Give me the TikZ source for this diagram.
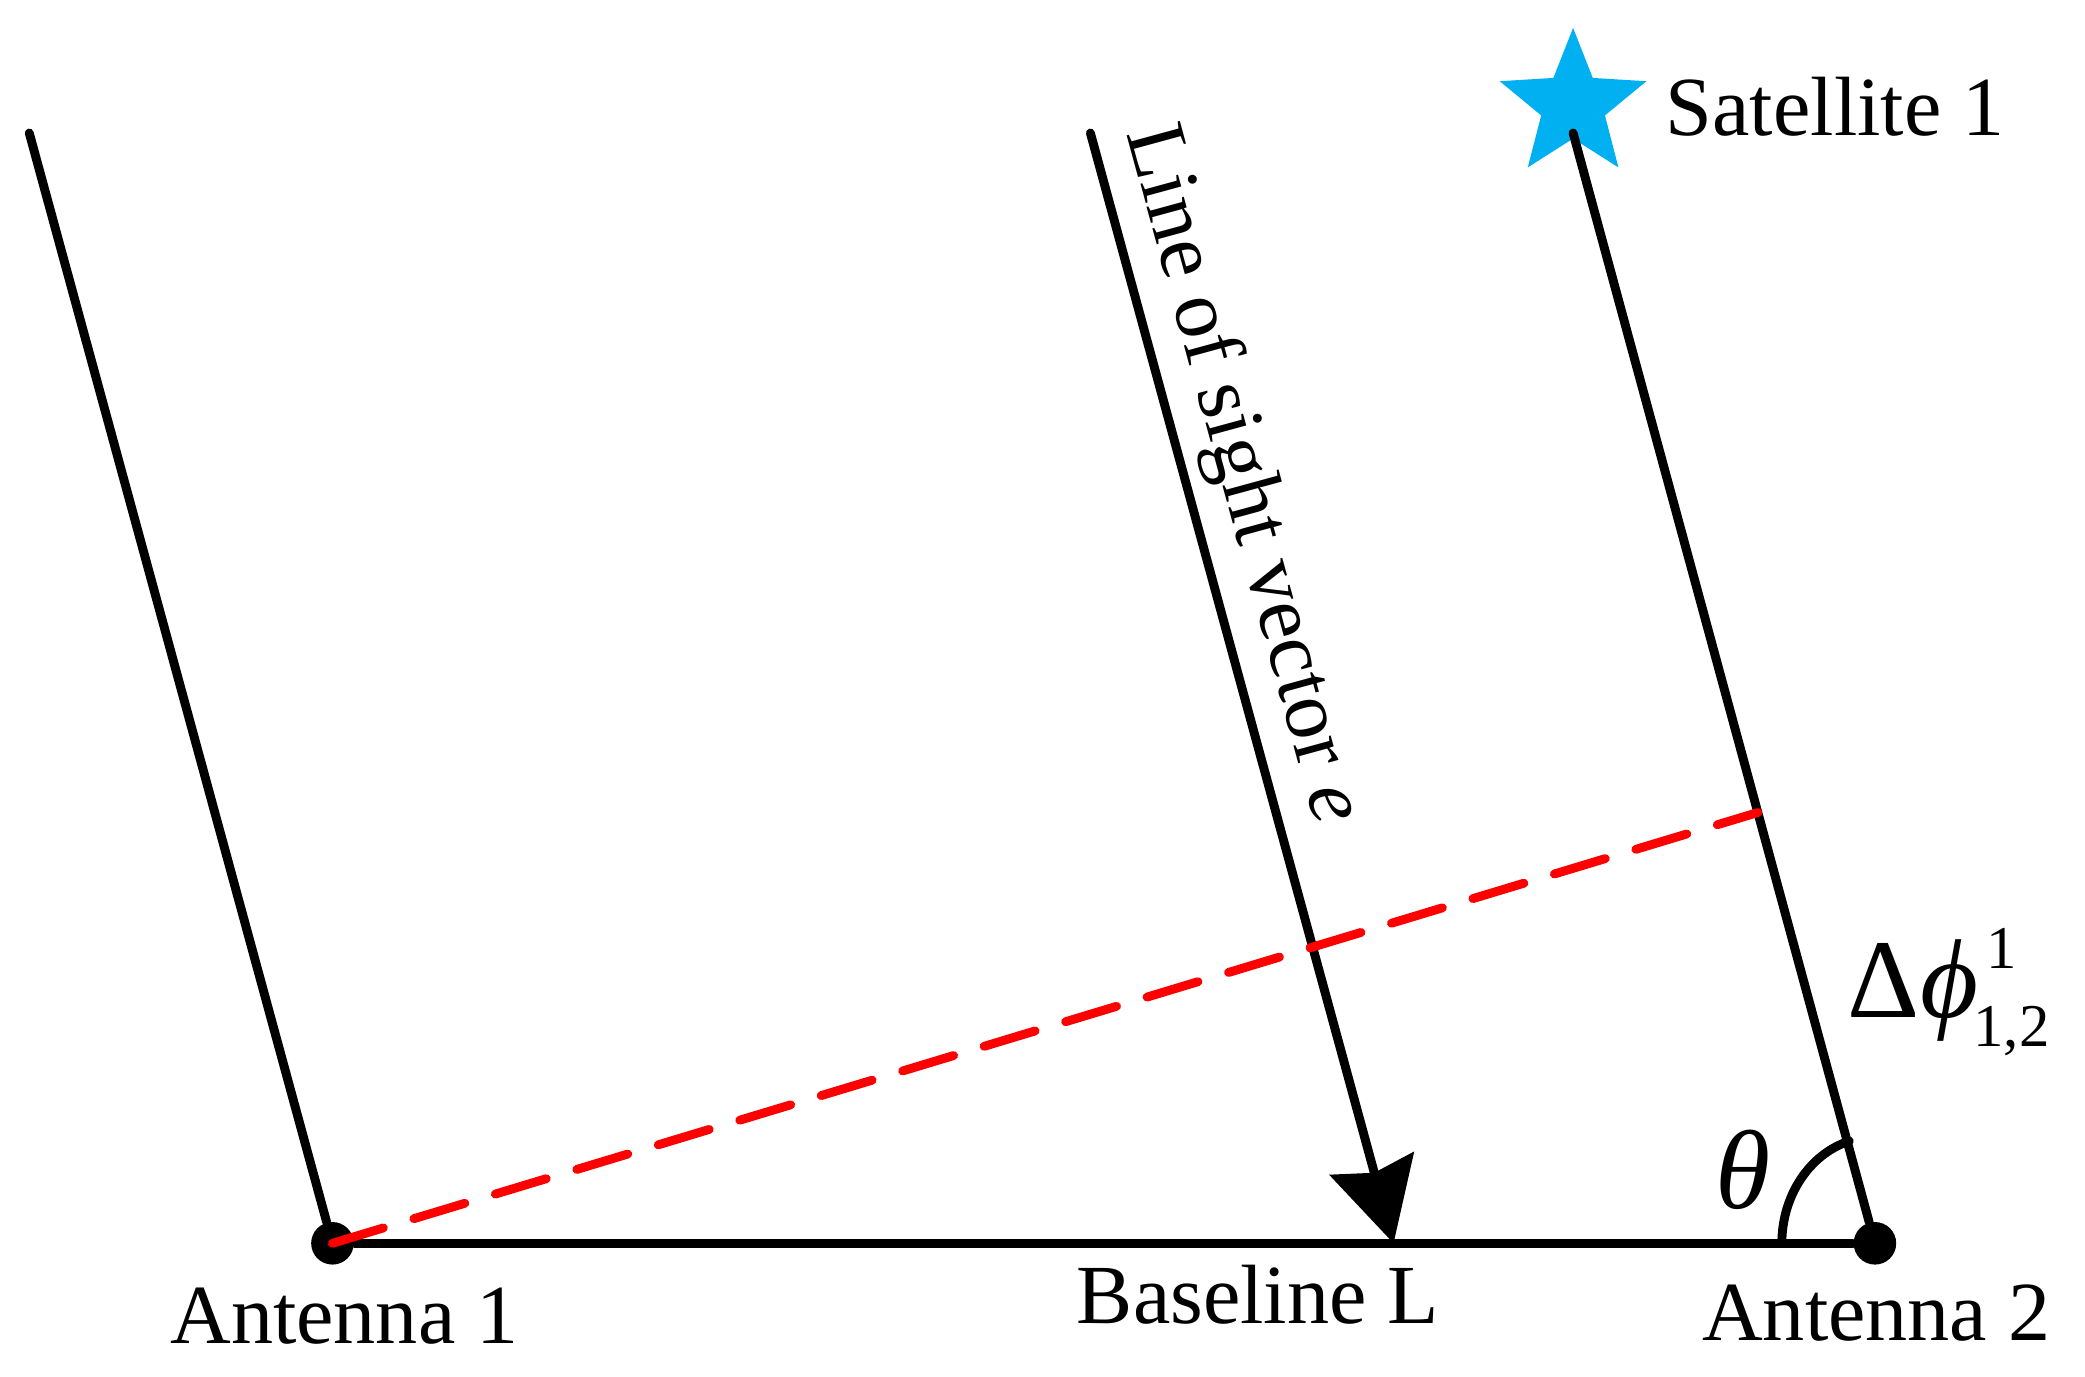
\documentclass[tikz,border=0pt]{standalone}
\usepackage{fontspec}
\setmainfont{Liberation Serif}
\usetikzlibrary{arrows.meta,shapes.geometric,calc}
\definecolor{skyblue}{RGB}{0,176,240}
\definecolor{red}{RGB}{255,0,0}
\newcommand{\phaselabel}{{\fontsize{24}{28}\selectfont Δ\textit{ϕ}}\kern-1pt\rlap{\kern2.8pt\raisebox{10.5pt}{\fontsize{13}{15}\selectfont 1}}\raisebox{-6.3pt}{\fontsize{13}{15}\selectfont 1,2}}

\begin{document}
\begin{tikzpicture}[
    ray/.style={line width=1.9pt, line cap=round},
    antdot/.style={circle, fill=black, inner sep=0pt, minimum size=0.32cm},
    pathdiff/.style={red, line width=1.9pt, line cap=round, dash pattern=on 0.40cm off 0.24cm},
    lbl/.style={inner sep=0pt, font=\fontsize{18}{22}\selectfont},
    greek/.style={inner sep=0pt, font=\fontsize{24}{28}\selectfont}]
    \useasboundingbox (0,0) rectangle (15.68,10.35);

    % Antennas
    \node[antdot] (ant1) at (2.50,1.00) {};
    \node[antdot] (ant2) at (14.10,1.00) {};

    % Upper ends of the parallel rays
    \coordinate (top1) at (0.22,9.35);
    \coordinate (los0) at (8.20,9.35);
    \coordinate (los1) at (10.48,1.00);
    \coordinate (top2) at (11.83,9.35);

    % Satellite
    \node[star, star points=5, star point ratio=2.3, fill=skyblue, inner sep=0pt, minimum size=1.16cm] (sat) at (11.83,9.56) {};
    \node[lbl, anchor=base west] (satlbl) at (12.52,9.33) {Satellite 1};

    % Rays and baseline
    \draw[ray] (top1) -- (ant1);
    \draw[ray] (top2) -- (ant2);
    \draw[ray] (ant1) -- (ant2);
    \draw[ray, -{Stealth[length=0.62cm, width=0.65cm, inset=0.07cm]}] (los0) -- (los1);
    \node[lbl, anchor=base west, rotate=-74.73] (loslbl) at (8.47,9.354) {Line of sight vector \textit{e}};

    % Projection of the baseline onto the ray
    \coordinate (foot) at ($(ant2.center)!0.388!(top2)$);
    \draw[pathdiff] (ant1.center) -- (foot);

    % Angle between baseline and ray
    \draw[ray] ($(ant2.center)+(-0.70,0)$) arc[start angle=180, end angle=106, x radius=0.70, y radius=0.80];
    \node[greek] (theta) at (13.11,1.55) {\textit{θ}};
    \node[inner sep=0pt, anchor=base west] (dphi) at (13.89,2.70) {\phaselabel};

    % Labels
    \node[lbl, anchor=base] (ant1lbl) at (2.59,0.25) {Antenna 1};
    \node[lbl, anchor=base] (ant2lbl) at (14.11,0.27) {Antenna 2};
    \node[lbl, anchor=base] (baselbl) at (9.46,0.40) {Baseline L};
\end{tikzpicture}
\end{document}
